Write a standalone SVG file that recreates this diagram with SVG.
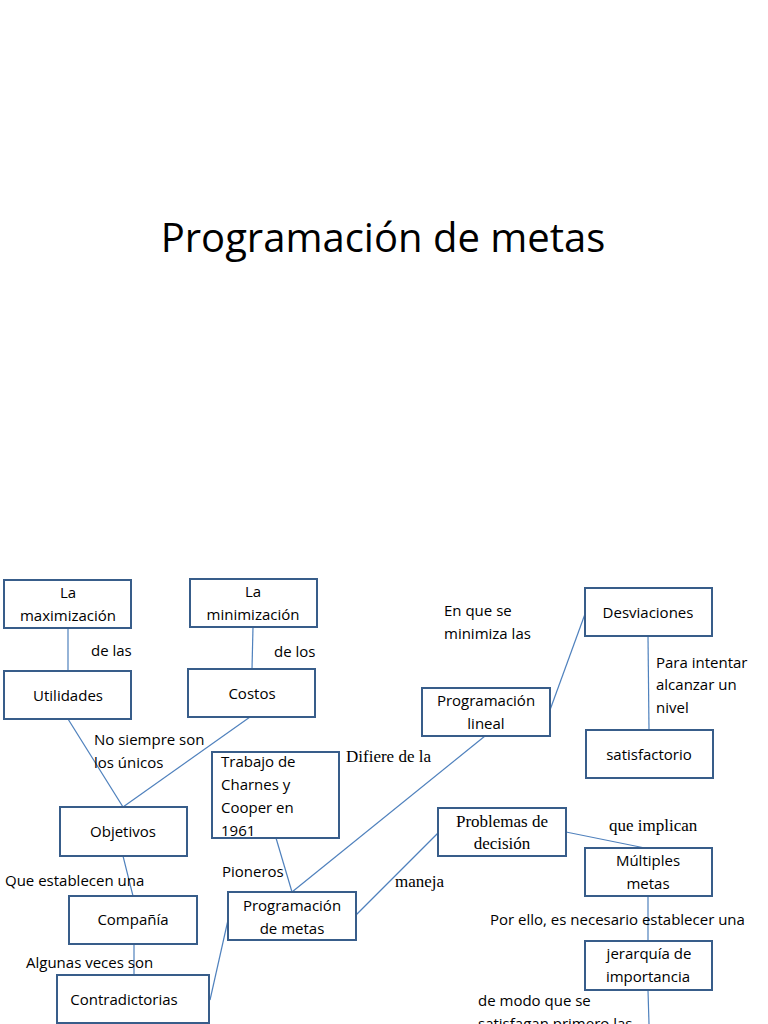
<svg xmlns="http://www.w3.org/2000/svg" width="768" height="1024" viewBox="0 0 768 1024">
<style>
.b{fill:#fff;stroke:#385d8a;stroke-width:2}
.c{stroke:#4f81bd;stroke-width:1.2;fill:none}
.t{font-family:"Open Sans","Liberation Sans",sans-serif;font-size:15px;fill:#000}
.s{font-family:"Liberation Serif",serif;font-size:17px;fill:#000}
.m{text-anchor:middle}
</style>
<rect width="768" height="1024" fill="#fff"/>
<text x="383" y="252" text-anchor="middle" font-family="Open Sans,Liberation Sans,sans-serif" font-size="40" fill="#000">Programación de metas</text>
<g id="connectors">
<line class="c" x1="68" y1="628" x2="68" y2="671"/>
<line class="c" x1="253" y1="627" x2="252" y2="669"/>
<line class="c" x1="68" y1="719" x2="123" y2="807"/>
<line class="c" x1="250" y1="717" x2="123" y2="807"/>
<line class="c" x1="123" y1="856" x2="133" y2="896"/>
<line class="c" x1="134" y1="944" x2="134" y2="975"/>
<line class="c" x1="210" y1="1000" x2="228" y2="920"/>
<line class="c" x1="276" y1="838" x2="292" y2="892"/>
<line class="c" x1="292" y1="892" x2="485" y2="736"/>
<line class="c" x1="356" y1="915" x2="438" y2="833"/>
<line class="c" x1="550" y1="710" x2="585" y2="614"/>
<line class="c" x1="648" y1="636" x2="649" y2="730"/>
<line class="c" x1="566" y1="832" x2="645" y2="848"/>
<line class="c" x1="648" y1="896" x2="648" y2="941"/>
<line class="c" x1="648" y1="990" x2="649" y2="1024"/>
</g>
<g id="n1"><rect class="b" x="4" y="580" width="127" height="48"/><text class="t m" x="68" y="598">La</text><text class="t m" x="68" y="621">maximización</text></g>
<g id="n2"><rect class="b" x="190" y="579" width="127" height="48"/><text class="t m" x="253" y="597">La</text><text class="t m" x="253" y="620">minimización</text></g>
<g id="n3"><rect class="b" x="4" y="671" width="127" height="48"/><text class="t m" x="68" y="701">Utilidades</text></g>
<g id="n4"><rect class="b" x="188" y="669" width="127" height="48"/><text class="t m" x="252" y="699">Costos</text></g>
<g id="n5"><rect class="b" x="60" y="807" width="127" height="49"/><text class="t m" x="123" y="837">Objetivos</text></g>
<g id="n6"><rect class="b" x="212" y="752" width="127" height="86"/><text class="t" x="221" y="767">Trabajo de</text><text class="t" x="221" y="790">Charnes y</text><text class="t" x="221" y="813">Cooper en</text><text class="t" x="221" y="836">1961</text></g>
<g id="n7"><rect class="b" x="69" y="896" width="128" height="48"/><text class="t m" x="133" y="925">Compañía</text></g>
<g id="n8"><rect class="b" x="57" y="975" width="152" height="48"/><text class="t m" x="124" y="1005">Contradictorias</text></g>
<g id="n9"><rect class="b" x="228" y="892" width="128" height="48"/><text class="t m" x="292" y="911">Programación</text><text class="t m" x="292" y="934">de metas</text></g>
<g id="n10"><rect class="b" x="422" y="688" width="128" height="48"/><text class="t m" x="486" y="706">Programación</text><text class="t m" x="486" y="729">lineal</text></g>
<g id="n11"><rect class="b" x="585" y="588" width="127" height="48"/><text class="t m" x="648" y="618">Desviaciones</text></g>
<g id="n12"><rect class="b" x="586" y="730" width="127" height="48"/><text class="t m" x="649" y="760">satisfactorio</text></g>
<g id="n13"><rect class="b" x="438" y="808" width="128" height="48"/><text class="s m" x="502" y="827">Problemas de</text><text class="s m" x="502" y="849">decisión</text></g>
<g id="n14"><rect class="b" x="585" y="848" width="127" height="48"/><text class="t m" x="648" y="866">Múltiples</text><text class="t m" x="648" y="889">metas</text></g>
<g id="n15"><rect class="b" x="585" y="941" width="127" height="49"/><text class="t m" x="649" y="959">jerarquía de</text><text class="t m" x="648" y="982">importancia</text></g>
<g id="labels">
<text class="t" x="91" y="656">de las</text>
<text class="t" x="274" y="657">de los</text>
<text class="t" x="94" y="745">No siempre son</text>
<text class="t" x="94" y="768">los únicos</text>
<text class="s" x="346" y="762">Difiere de la</text>
<text class="t" x="444" y="616">En que se</text>
<text class="t" x="444" y="639">minimiza las</text>
<text class="t" x="656" y="668">Para intentar</text>
<text class="t" x="656" y="690">alcanzar un</text>
<text class="t" x="656" y="713">nivel</text>
<text class="s" x="609" y="831">que implican</text>
<text class="t" x="5" y="886">Que establecen una</text>
<text class="t" x="222" y="877">Pioneros</text>
<text class="s" x="395" y="887">maneja</text>
<text class="t" x="490" y="925">Por ello, es necesario establecer una</text>
<text class="t" x="26" y="968">Algunas veces son</text>
<text class="t" x="478" y="1006">de modo que se</text>
<text class="t" x="478" y="1029">satisfagan primero las</text>
</g>
</svg>
